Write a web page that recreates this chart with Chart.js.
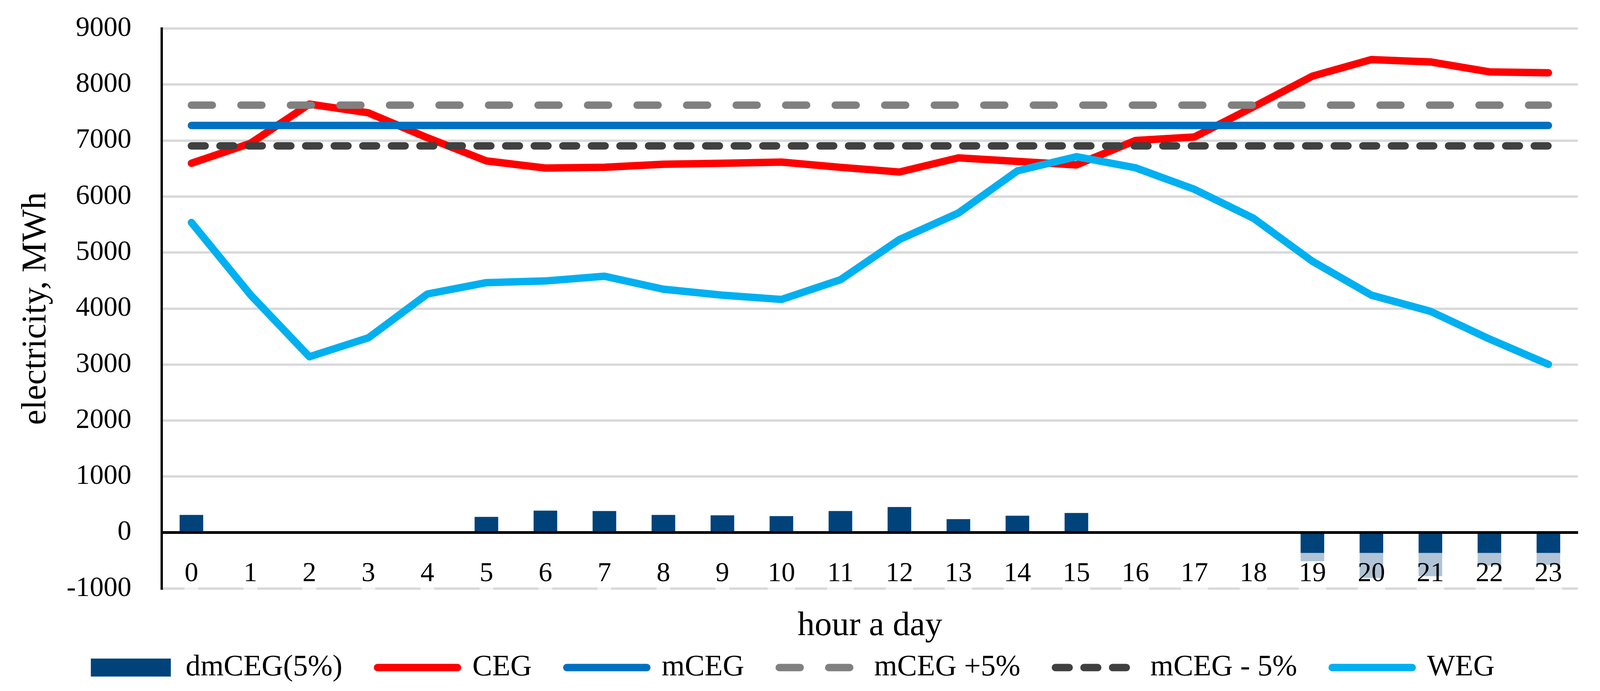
<!DOCTYPE html>
<html lang="en">
<head>
  <meta charset="UTF-8" />
  <title>Electricity by hour</title>
  <script src="https://cdn.jsdelivr.net/npm/chart.js"></script>
  <style>
    html, body { margin: 0; padding: 0; background: #fff; overflow: hidden; }
    canvas { display: block; }
  </style>
</head>
<body>
  <canvas id="grafico"></canvas>

  <script>
    // hours of the day (x tick labels)
    const hours = ['0', '1', '2', '3', '4', '5', '6', '7', '8', '9', '10', '11',
                   '12', '13', '14', '15', '16', '17', '18', '19', '20', '21', '22', '23'];

    // y tick range
    const yMin = -1000;
    const yMax = 9000;
    const yStep = 1000;

    // series, MWh
    const dmCEG = [316, null, null, null, null, 281, 393, 386, 316, 309, 295, 386,
                   456, 240, 302, 351, null, null, null, -512, -810, -779, -589, -577];
    const CEG = [6594, 6950, 7651, 7495, 7050, 6636, 6509, 6522, 6577, 6594, 6615, 6522,
                 6438, 6691, 6628, 6564, 7000, 7063, 7600, 8150, 8446, 8404, 8226, 8209];
    const mCEG = [7270, 7270, 7270, 7270, 7270, 7270, 7270, 7270, 7270, 7270, 7270, 7270,
                  7270, 7270, 7270, 7270, 7270, 7270, 7270, 7270, 7270, 7270, 7270, 7270];
    const mCEGplus = [7632, 7632, 7632, 7632, 7632, 7632, 7632, 7632, 7632, 7632, 7632, 7632,
                      7632, 7632, 7632, 7632, 7632, 7632, 7632, 7632, 7632, 7632, 7632, 7632];
    const mCEGminus = [6905, 6905, 6905, 6905, 6905, 6905, 6905, 6905, 6905, 6905, 6905, 6905,
                       6905, 6905, 6905, 6905, 6905, 6905, 6905, 6905, 6905, 6905, 6905, 6905];
    const WEG = [5537, 4247, 3140, 3478, 4260, 4463, 4493, 4577, 4345, 4239, 4163, 4514,
                 5233, 5706, 6459, 6712, 6514, 6129, 5613, 4844, 4239, 3951, 3457, 3004];

    // the layout was measured on a 4200 x 1768 picture, scale it to the window
    const W = window.innerWidth;
    const H = window.innerHeight;
    const sx = W / 4200;
    const sy = H / 1768;

    const canvas = document.getElementById('grafico');
    canvas.width = W;
    canvas.height = H;

    Chart.defaults.font.family = "'Liberation Serif', 'Times New Roman', serif";
    Chart.defaults.color = '#000';

    const LW = 19;
    const legendFont = 78 * sx;
    const legendPad = 92 * sx;
    const padBottom = H - 1708 * sy - legendFont / 2 - 10;
    const gapHeight = H - padBottom - (legendFont + legendPad + 10) - 1506 * sy;
    const xTitleFont = 90 * sx;
    const yTitleFont = 88 * sy;

    function lineSet(label, data, color, dash, order) {
      return {
        type: 'line',
        label: label,
        data: data,
        borderColor: color,
        backgroundColor: color,
        borderWidth: LW,
        borderDash: dash,
        borderCapStyle: 'round',
        borderJoinStyle: 'round',
        pointRadius: 0,
        pointHoverRadius: 0,
        tension: 0,
        fill: false,
        order: order
      };
    }

    new Chart(canvas.getContext('2d'), {
      type: 'bar',
      data: {
        labels: hours,
        datasets: [
          {
            type: 'bar',
            label: 'dmCEG(5%)',
            data: dmCEG,
            backgroundColor: '#00437a',
            borderWidth: 0,
            categoryPercentage: 1,
            barPercentage: 0.4,
            order: 6
          },
          lineSet('CEG', CEG, '#ff0000', [], 5),
          lineSet('mCEG', mCEG, '#0070c0', [], 4),
          lineSet('mCEG +5%', mCEGplus, '#808080', [55 * sx, 75 * sx], 3),
          lineSet('mCEG - 5%', mCEGminus, '#404040', [36 * sx, 39 * sx], 2),
          lineSet('WEG', WEG, '#00b0f0', [], 1)
        ]
      },
      options: {
        responsive: false,
        devicePixelRatio: 1,
        animation: false,
        layout: { padding: { left: 20 * sx, right: 58 * sx, top: 73 * sy, bottom: padBottom } },
        plugins: {
          tooltip: { enabled: false },
          legend: {
            position: 'bottom',
            labels: {
              font: { size: legendFont },
              color: '#000',
              usePointStyle: true,
              pointStyleWidth: 210 * sx,
              boxHeight: 46 * sy,
              padding: legendPad,
              generateLabels: chart => chart.data.datasets.map((ds, i) => ({
                text: ds.label,
                datasetIndex: i,
                fillStyle: ds.type === 'line' ? 'rgba(0,0,0,0)' : ds.backgroundColor,
                strokeStyle: ds.type === 'line' ? ds.borderColor : ds.backgroundColor,
                lineWidth: ds.type === 'line' ? ds.borderWidth : 0,
                lineDash: ds.borderDash || [],
                lineCap: 'round',
                pointStyle: ds.type === 'line' ? 'line' : 'rect',
                hidden: false
              }))
            }
          }
        },
        scales: {
          x: {
            type: 'category',
            position: { y: 0 },
            offset: true,
            grid: { display: false, drawTicks: true, tickLength: 64 * sy },
            border: { display: true, color: '#000', width: 7, z: 1 },
            ticks: {
              z: 1,
              font: { size: 72 * sx },
              color: '#000',
              padding: 0,
              autoSkip: false,
              maxRotation: 0,
              showLabelBackdrop: true,
              backdropColor: 'rgba(255,255,255,0.69)',
              backdropPadding: { top: 12 * sy, bottom: 0, left: 0, right: 0 }
            },
            title: {
              display: true,
              text: 'hour a day',
              font: { size: xTitleFont },
              color: '#000',
              padding: 0
            },
            afterFit: s => { s.height = (1602 - 1363) * sy + xTitleFont * 0.6; }
          },
          gap: {
            type: 'category',
            position: 'bottom',
            grid: { display: false, drawTicks: false },
            border: { display: false },
            ticks: { display: false },
            afterFit: s => { s.height = gapHeight; }
          },
          y: {
            min: yMin,
            max: yMax,
            ticks: {
              stepSize: yStep,
              font: { size: 73 * sx },
              color: '#000',
              padding: 0,
              callback: v => `${v}`
            },
            grid: { color: '#d9d9d9', lineWidth: 6, drawTicks: true, tickLength: 80 * sx, tickColor: 'rgba(0,0,0,0)' },
            border: { display: true, color: '#000', width: 6 },
            title: {
              display: true,
              text: 'electricity, MWh',
              font: { size: yTitleFont },
              color: '#000',
              padding: { top: 95 * sx - 20 * sx - yTitleFont * 0.6, bottom: 0 }
            },
            afterFit: s => { s.width = 405 * sx; }
          }
        }
      }
    });
  </script>
</body>
</html>
